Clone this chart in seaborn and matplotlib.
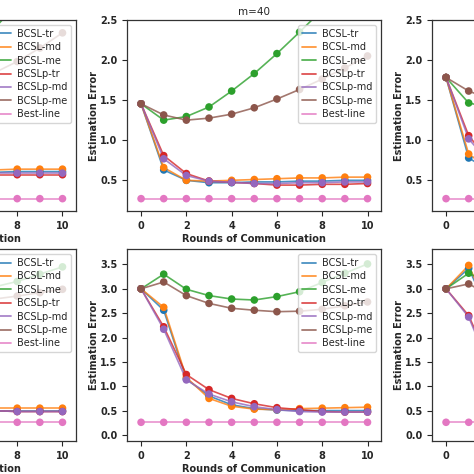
import matplotlib
matplotlib.use("Agg")
from matplotlib import pyplot as plt
from matplotlib.lines import Line2D
import seaborn as sns
import pandas as pd

rounds = list(range(11))
series_names = ['BCSL-tr', 'BCSL-md', 'BCSL-me', 'BCSLp-tr', 'BCSLp-md', 'BCSLp-me', 'Best-line']

# top row, left panel (only x >= 7 is in view)
top_left = {
    'BCSL-tr':   [1.45, 0.66, 0.55, 0.56, 0.57, 0.58, 0.59, 0.59, 0.60, 0.60, 0.60],
    'BCSL-md':   [1.45, 0.70, 0.57, 0.58, 0.59, 0.60, 0.61, 0.62, 0.63, 0.63, 0.63],
    'BCSL-me':   [1.45, 1.28, 1.36, 1.52, 1.72, 1.93, 2.15, 2.40, 2.70, 3.00, 3.30],
    'BCSLp-tr':  [1.45, 0.82, 0.62, 0.55, 0.55, 0.56, 0.56, 0.56, 0.56, 0.56, 0.56],
    'BCSLp-md':  [1.45, 0.78, 0.60, 0.56, 0.56, 0.57, 0.57, 0.58, 0.58, 0.58, 0.58],
    'BCSLp-me':  [1.45, 1.30, 1.30, 1.36, 1.46, 1.58, 1.70, 1.84, 1.98, 2.15, 2.34],
    'Best-line': [0.26] * 11,
}

# top row, middle panel (m=40)
top_mid = {
    'BCSL-tr':   [1.45, 0.62, 0.49, 0.46, 0.46, 0.47, 0.47, 0.48, 0.48, 0.49, 0.49],
    'BCSL-md':   [1.45, 0.65, 0.49, 0.48, 0.49, 0.50, 0.51, 0.52, 0.52, 0.53, 0.53],
    'BCSL-me':   [1.45, 1.245, 1.29, 1.41, 1.61, 1.83, 2.08, 2.35, 2.63, 2.92, 3.20],
    'BCSLp-tr':  [1.45, 0.80, 0.575, 0.48, 0.465, 0.45, 0.43, 0.43, 0.44, 0.44, 0.45],
    'BCSLp-md':  [1.45, 0.76, 0.55, 0.48, 0.465, 0.45, 0.45, 0.46, 0.46, 0.47, 0.47],
    'BCSLp-me':  [1.45, 1.31, 1.245, 1.27, 1.32, 1.40, 1.51, 1.63, 1.76, 1.90, 2.05],
    'Best-line': [0.26] * 11,
}

# top row, right panel (only x <= 1 is in view)
top_right = {
    'BCSL-tr':   [1.78, 0.77, 0.60, 0.55, 0.53, 0.52, 0.52, 0.52, 0.52, 0.52, 0.52],
    'BCSL-md':   [1.78, 0.82, 0.62, 0.57, 0.55, 0.55, 0.55, 0.55, 0.55, 0.55, 0.55],
    'BCSL-me':   [1.78, 1.46, 1.40, 1.45, 1.55, 1.68, 1.82, 1.98, 2.15, 2.32, 2.50],
    'BCSLp-tr':  [1.78, 1.05, 0.70, 0.58, 0.54, 0.52, 0.51, 0.51, 0.51, 0.51, 0.51],
    'BCSLp-md':  [1.78, 1.01, 0.68, 0.57, 0.53, 0.52, 0.51, 0.51, 0.51, 0.51, 0.51],
    'BCSLp-me':  [1.78, 1.61, 1.50, 1.48, 1.52, 1.58, 1.66, 1.75, 1.85, 1.95, 2.05],
    'Best-line': [0.26] * 11,
}

# bottom row, left panel (only x >= 7 is in view)
bottom_left = {
    'BCSL-tr':   [3.00, 2.55, 1.20, 0.80, 0.62, 0.55, 0.52, 0.50, 0.50, 0.50, 0.50],
    'BCSL-md':   [3.00, 2.60, 1.22, 0.80, 0.64, 0.58, 0.56, 0.55, 0.55, 0.55, 0.55],
    'BCSL-me':   [3.00, 3.30, 3.00, 2.88, 2.84, 2.86, 2.94, 3.04, 3.15, 3.30, 3.45],
    'BCSLp-tr':  [3.00, 2.22, 1.25, 0.92, 0.74, 0.62, 0.55, 0.50, 0.48, 0.48, 0.48],
    'BCSLp-md':  [3.00, 2.18, 1.15, 0.85, 0.69, 0.59, 0.53, 0.50, 0.48, 0.48, 0.48],
    'BCSLp-me':  [3.00, 3.14, 2.90, 2.78, 2.72, 2.72, 2.74, 2.79, 2.85, 2.92, 2.99],
    'Best-line': [0.26] * 11,
}

# bottom row, middle panel
bottom_mid = {
    'BCSL-tr':   [3.00, 2.56, 1.15, 0.80, 0.62, 0.54, 0.51, 0.50, 0.50, 0.50, 0.50],
    'BCSL-md':   [3.00, 2.62, 1.18, 0.75, 0.59, 0.53, 0.52, 0.54, 0.55, 0.56, 0.57],
    'BCSL-me':   [3.00, 3.30, 2.99, 2.86, 2.79, 2.77, 2.84, 2.94, 3.13, 3.32, 3.51],
    'BCSLp-tr':  [3.00, 2.22, 1.24, 0.93, 0.75, 0.64, 0.56, 0.52, 0.48, 0.47, 0.47],
    'BCSLp-md':  [3.00, 2.17, 1.13, 0.84, 0.68, 0.58, 0.52, 0.48, 0.47, 0.47, 0.47],
    'BCSLp-me':  [3.00, 3.14, 2.86, 2.70, 2.60, 2.56, 2.53, 2.54, 2.58, 2.65, 2.73],
    'Best-line': [0.26] * 11,
}

# bottom row, right panel (only x <= 1 is in view)
bottom_right = {
    'BCSL-tr':   [3.00, 3.42, 2.40, 1.40, 0.90, 0.68, 0.58, 0.54, 0.52, 0.52, 0.52],
    'BCSL-md':   [3.00, 3.48, 2.45, 1.45, 0.92, 0.70, 0.60, 0.56, 0.55, 0.55, 0.55],
    'BCSL-me':   [3.00, 3.32, 3.10, 2.95, 2.88, 2.86, 2.90, 3.00, 3.12, 3.28, 3.45],
    'BCSLp-tr':  [3.00, 2.45, 1.40, 0.95, 0.72, 0.60, 0.53, 0.50, 0.48, 0.48, 0.48],
    'BCSLp-md':  [3.00, 2.42, 1.30, 0.88, 0.68, 0.57, 0.52, 0.49, 0.48, 0.48, 0.48],
    'BCSLp-me':  [3.00, 3.10, 2.85, 2.72, 2.66, 2.64, 2.66, 2.70, 2.76, 2.83, 2.90],
    'Best-line': [0.26] * 11,
}

top_yticks = [0.5, 1.0, 1.5, 2.0, 2.5]
bottom_yticks = [0.0, 0.5, 1.0, 1.5, 2.0, 2.5, 3.0, 3.5]
xticks = [0, 2, 4, 6, 8, 10]

sns.set_style("ticks")
plt.rcParams['font.family'] = ['DejaVu Sans']
colors = sns.color_palette("tab10", 7)


def to_long(panel):
    rows = []
    for name in series_names:
        for r, v in zip(rounds, panel[name]):
            rows.append({'round': r, 'error': v, 'method': name})
    return pd.DataFrame(rows)


def draw_panel(ax, panel, ylim, yticks, title=None):
    df = to_long(panel)
    sns.lineplot(data=df, x='round', y='error', hue='method', hue_order=series_names,
                 palette=colors, linewidth=1.2, alpha=0.8, legend=False, ax=ax)
    sns.scatterplot(data=df, x='round', y='error', hue='method', hue_order=series_names,
                    palette=colors, s=30, linewidth=0, legend=False, ax=ax, zorder=3)
    ax.set_xlim(-0.62, 10.6)
    ax.set_ylim(*ylim)
    ax.set_xticks(xticks)
    ax.set_yticks(yticks)
    ax.tick_params(labelsize=7, length=3.5, width=0.8)
    for lab in ax.get_xticklabels() + ax.get_yticklabels():
        lab.set_fontweight('bold')
    ax.set_xlabel('Rounds of Communication', fontsize=7, fontweight='bold', labelpad=2)
    ax.set_ylabel('Estimation Error', fontsize=7, fontweight='bold', labelpad=1)
    for sp in ax.spines.values():
        sp.set_color('#333333')
        sp.set_linewidth(0.9)
    if title:
        ax.set_title(title, fontsize=7.5, pad=4)
    handles = [Line2D([], [], color=c, lw=1.3, alpha=0.8) for c in colors]
    ax.legend(handles, series_names, loc='upper right', fontsize=7, handlelength=1.5,
              handletextpad=0.6, labelspacing=0.35, borderpad=0.4, framealpha=0.8)


fig = plt.figure(figsize=(4.74, 4.74), dpi=100)
col_left = [-0.3755, 0.268, 0.9114]
width = 0.536
top_row = (0.554, 0.4036)
bottom_row = (0.069, 0.405)

panels_top = [top_left, top_mid, top_right]
panels_bottom = [bottom_left, bottom_mid, bottom_right]
for i, left in enumerate(col_left):
    ax_t = fig.add_axes([left, top_row[0], width, top_row[1]])
    draw_panel(ax_t, panels_top[i], (0.1, 2.5), top_yticks, title='m=40' if i == 1 else None)
    ax_b = fig.add_axes([left, bottom_row[0], width, bottom_row[1]])
    draw_panel(ax_b, panels_bottom[i], (-0.13, 3.81), bottom_yticks)

fig.savefig('out.png', dpi=100)
